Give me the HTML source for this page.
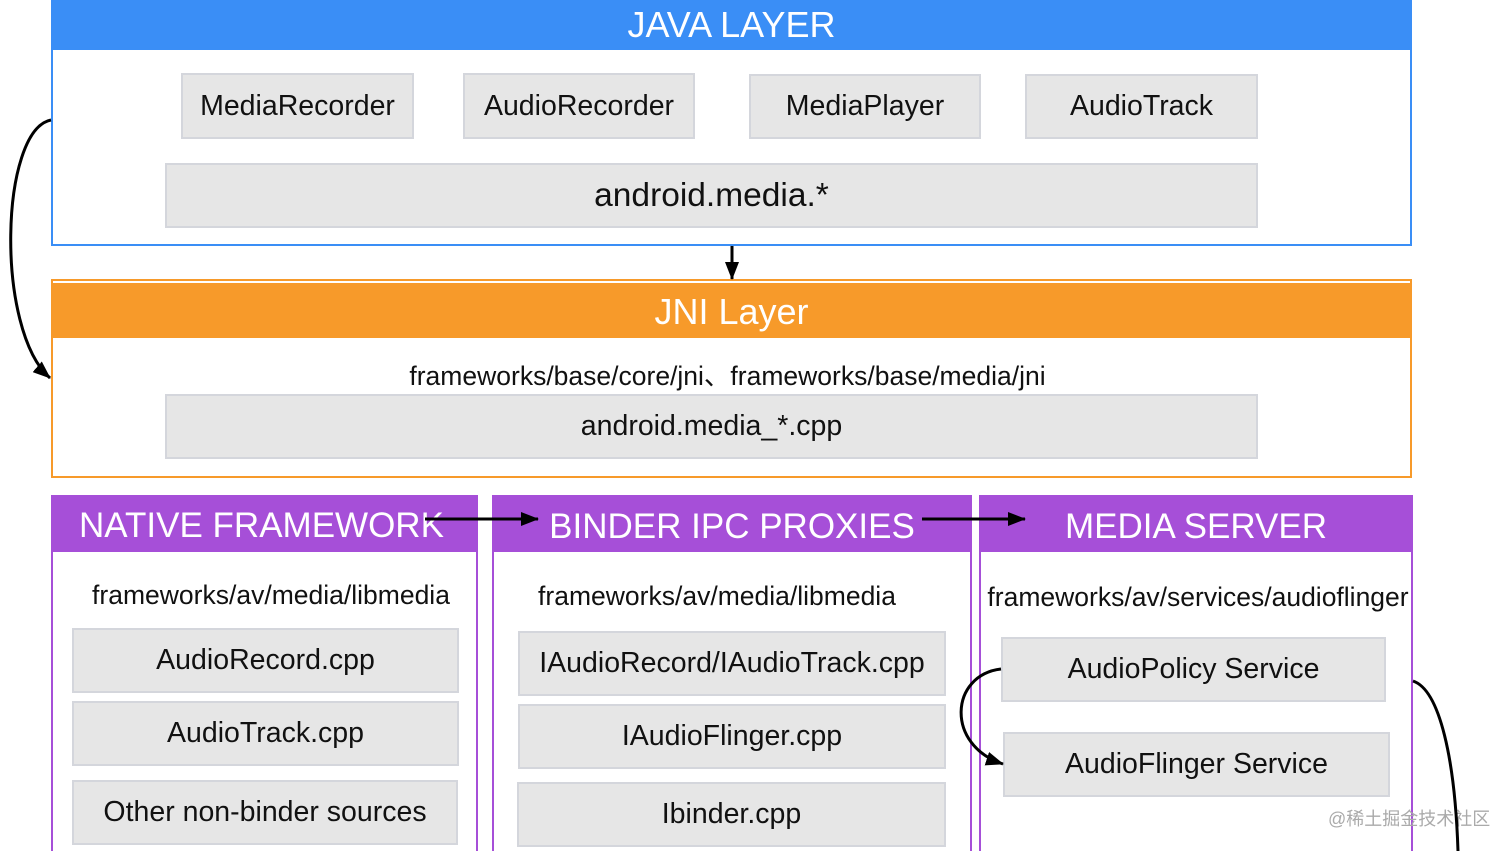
<!DOCTYPE html>
<html style="overflow:hidden;height:851px"><head><meta charset="utf-8"><style>
html,body{margin:0;width:1512px;height:851px;overflow:hidden;background:#fff}
body{font-family:"Liberation Sans","Noto Sans CJK SC",sans-serif;position:relative}
.a{position:absolute;box-sizing:border-box}
.hd{color:#fff;font-size:36px;text-align:center}
.bx{background:#e6e6e6;border:2px solid #d4d6dc;color:#111;font-size:28.5px;display:flex;align-items:center;justify-content:center;white-space:nowrap}
.t{color:#111;font-size:26.5px;text-align:center;white-space:nowrap}
</style></head><body>
<!-- JAVA -->
<div class="a" style="left:51px;top:0;width:1361px;height:246px;border:2px solid #3a8ef6"></div>
<div class="a hd" style="left:51px;top:0;width:1361px;height:50px;background:#3a8ef6;line-height:50px">JAVA LAYER</div>
<div class="a bx" style="left:181px;top:73px;width:233px;height:66px">MediaRecorder</div>
<div class="a bx" style="left:463px;top:73px;width:232px;height:66px">AudioRecorder</div>
<div class="a bx" style="left:749px;top:74px;width:232px;height:65px">MediaPlayer</div>
<div class="a bx" style="left:1025px;top:74px;width:233px;height:65px">AudioTrack</div>
<div class="a bx" style="left:165px;top:163px;width:1093px;height:65px;font-size:33.5px">android.media.*</div>
<!-- JNI -->
<div class="a" style="left:51px;top:279px;width:1361px;height:199px;border:2px solid #f79a2a"></div>
<div class="a hd" style="left:53px;top:283px;width:1357px;height:55px;background:#f79a2a;line-height:58px">JNI Layer</div>
<div class="a t" style="left:51px;top:354px;width:1353px">frameworks/base/core/jni、frameworks/base/media/jni</div>
<div class="a bx" style="left:165px;top:394px;width:1093px;height:65px">android.media_*.cpp</div>
<!-- NATIVE -->
<div class="a" style="left:51px;top:495px;width:427px;height:380px;border:2px solid #a64fd8"></div>
<div class="a hd" style="left:51px;top:495px;width:427px;height:57px;background:#a64fd8;line-height:62px;text-align:left;padding-left:28px;white-space:nowrap;font-size:35px">NATIVE FRAMEWORK</div>
<div class="a t" style="left:51px;top:580px;width:440px">frameworks/av/media/libmedia</div>
<div class="a bx" style="left:72px;top:628px;width:387px;height:65px">AudioRecord.cpp</div>
<div class="a bx" style="left:72px;top:701px;width:387px;height:65px">AudioTrack.cpp</div>
<div class="a bx" style="left:72px;top:780px;width:386px;height:65px">Other non-binder sources</div>
<!-- BINDER -->
<div class="a" style="left:492px;top:495px;width:480px;height:380px;border:2px solid #a64fd8"></div>
<div class="a hd" style="left:492px;top:495px;width:480px;height:57px;background:#a64fd8;line-height:64px;white-space:nowrap;font-size:35px">BINDER IPC PROXIES</div>
<div class="a t" style="left:492px;top:581px;width:450px">frameworks/av/media/libmedia</div>
<div class="a bx" style="left:518px;top:631px;width:428px;height:65px">IAudioRecord/IAudioTrack.cpp</div>
<div class="a bx" style="left:518px;top:704px;width:428px;height:65px">IAudioFlinger.cpp</div>
<div class="a bx" style="left:517px;top:782px;width:429px;height:65px">Ibinder.cpp</div>
<!-- MEDIA -->
<div class="a" style="left:979px;top:495px;width:434px;height:380px;border:2px solid #a64fd8"></div>
<div class="a hd" style="left:979px;top:495px;width:434px;height:57px;background:#a64fd8;line-height:64px;font-size:35px">MEDIA SERVER</div>
<div class="a t" style="left:979px;top:582px;width:438px">frameworks/av/services/audioflinger</div>
<div class="a bx" style="left:1001px;top:637px;width:385px;height:65px">AudioPolicy Service</div>
<div class="a bx" style="left:1003px;top:732px;width:387px;height:65px">AudioFlinger Service</div>
<div class="a" style="left:1328px;top:805px;font-size:18px;color:#aaa;white-space:nowrap">@稀土掘金技术社区</div>
<svg class="a" style="left:0;top:0" width="1512" height="851">
<defs><marker id="n" markerWidth="18" markerHeight="14" refX="17" refY="7" orient="auto" markerUnits="userSpaceOnUse"><path d="M0,0L18,7L0,14z" fill="#000"/></marker></defs>
<g stroke="#000" stroke-width="3" fill="none">
<path d="M732,246L732,279" marker-end="url(#n)"/>
<path d="M425,519L538,519" marker-end="url(#n)"/>
<path d="M922,519L1025,519" marker-end="url(#n)"/>
<path d="M51,120C0,130 -5,330 50,378" marker-end="url(#n)"/>
<path d="M1001,669C950,675 945,745 1003,764" marker-end="url(#n)"/>
<path d="M1413,681C1440,690 1455,760 1458,851"/>
</g></svg>
</body></html>
